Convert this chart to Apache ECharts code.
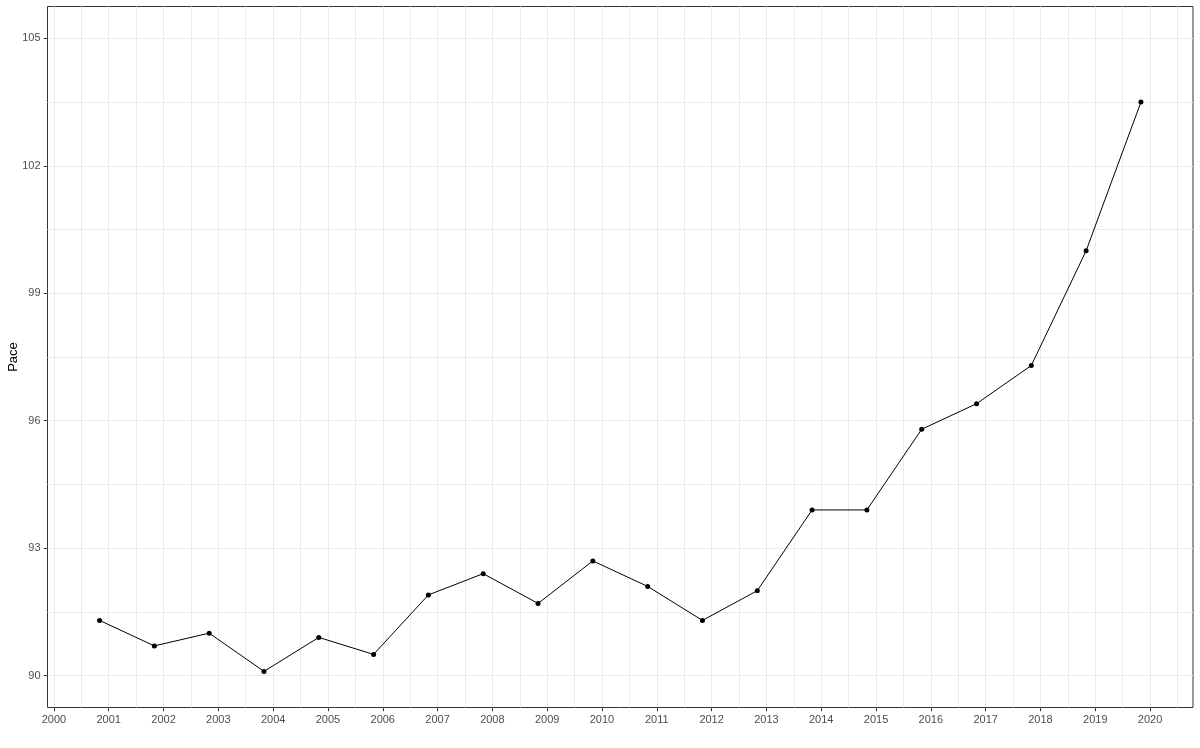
<!DOCTYPE html>
<html>
<head>
<meta charset="utf-8">
<script src="https://cdn.jsdelivr.net/npm/echarts@6/dist/echarts.min.js"></script>
<style>
html,body{margin:0;padding:0;background:#fff;}
#chart{width:1200px;height:748px;}
</style>
</head>
<body>
<div id="chart"></div>
<script>
// ---- data ----
const seasonDates = ['2000-11-01','2001-11-01','2002-11-01','2003-11-01','2004-11-01',
  '2005-11-01','2006-11-01','2007-11-01','2008-11-01','2009-11-01','2010-11-01',
  '2011-11-01','2012-11-01','2013-11-01','2014-11-01','2015-11-01','2016-11-01',
  '2017-11-01','2018-11-01','2019-11-01'];
const pace = [91.3, 90.7, 91.0, 90.1, 90.9, 90.5, 91.9, 92.4, 91.7, 92.7, 92.1,
  91.3, 92.0, 93.9, 93.9, 95.8, 96.4, 97.3, 100.0, 103.5];
const xTickLabels = [2000,2001,2002,2003,2004,2005,2006,2007,2008,2009,2010,
  2011,2012,2013,2014,2015,2016,2017,2018,2019,2020];
const xMinorBreaks = [2000.5,2001.5,2002.5,2003.5,2004.5,2005.5,2006.5,2007.5,2008.5,
  2009.5,2010.5,2011.5,2012.5,2013.5,2014.5,2015.5,2016.5,2017.5,2018.5,2019.5,2020.5];
const yTickLabels = [90, 93, 96, 99, 102, 105];
const yMinorBreaks = [91.5, 94.5, 97.5, 100.5, 103.5];
const yLimits = [90, 105];

function decYear(s) {
  const d = new Date(s + 'T00:00:00Z');
  const y = d.getUTCFullYear();
  const a = Date.UTC(y, 0, 1), b = Date.UTC(y + 1, 0, 1);
  return y + (d.getTime() - a) / (b - a);
}
const xs = seasonDates.map(decYear);
const points = xs.map((x, i) => [x, pace[i]]);
const xr = xs[xs.length - 1] - xs[0];
const xMin = xs[0] - 0.05 * xr, xMax = xs[xs.length - 1] + 0.05 * xr;
const yr = yLimits[1] - yLimits[0];
const yMin = yLimits[0] - 0.05 * yr, yMax = yLimits[1] + 0.05 * yr;

const isInt = v => Math.abs(v - Math.round(v)) < 1e-6;
const GRID = '#EBEBEB';
const FONT = '"Liberation Sans", Arial, sans-serif';

const chart = echarts.init(document.getElementById('chart'), null, {renderer: 'canvas'});
chart.setOption({
  animation: false,
  backgroundColor: '#ffffff',
  grid: {
    left: 47.5, right: 7, top: 6.5, bottom: 40.5,
    show: true, borderColor: '#333333', borderWidth: 1, backgroundColor: '#ffffff',
    containLabel: false, outerBoundsMode: 'none'
  },
  xAxis: {
    type: 'value', min: xMin, max: xMax, interval: 1,
    axisLine: {show: false},
    axisTick: {show: true, length: 3.7, customValues: xTickLabels,
      lineStyle: {color: '#333333', width: 1}},
    axisLabel: {show: true, customValues: xTickLabels, margin: 7,
      color: '#4D4D4D', fontSize: 11, fontFamily: FONT,
      formatter: v => isInt(v) ? String(Math.round(v)) : ''},
    splitLine: {show: true, lineStyle: {color: GRID, width: 1}}
  },
  yAxis: {
    type: 'value', min: yMin, max: yMax, interval: 3,
    name: 'Pace', nameLocation: 'middle', nameRotate: 90, nameGap: 28,
    nameMoveOverlap: false,
    nameTextStyle: {color: '#000000', fontSize: 13, fontFamily: FONT},
    axisLine: {show: false},
    axisTick: {show: true, length: 3.7, customValues: yTickLabels,
      lineStyle: {color: '#333333', width: 1}},
    axisLabel: {show: true, customValues: yTickLabels, margin: 7,
      color: '#4D4D4D', fontSize: 11, fontFamily: FONT,
      formatter: v => (isInt(v) && yTickLabels.indexOf(Math.round(v)) >= 0) ? String(Math.round(v)) : ''},
    splitLine: {show: true, lineStyle: {color: GRID, width: 1}}
  },
  series: [
    {
      type: 'line', data: [], silent: true, z: 1,
      markLine: {
        silent: true, symbol: 'none', z: 1, animation: false,
        label: {show: false},
        lineStyle: {color: GRID, width: 1, type: 'solid'},
        emphasis: {disabled: true},
        data: xMinorBreaks.map(v => ({xAxis: v})).concat(yMinorBreaks.map(v => ({yAxis: v})))
      }
    },
    {
      type: 'line', data: points, z: 3,
      symbol: 'circle', symbolSize: 5, showSymbol: true,
      itemStyle: {color: '#000000'},
      lineStyle: {color: '#000000', width: 1},
      emphasis: {disabled: true}
    }
  ]
});
</script>
</body>
</html>
